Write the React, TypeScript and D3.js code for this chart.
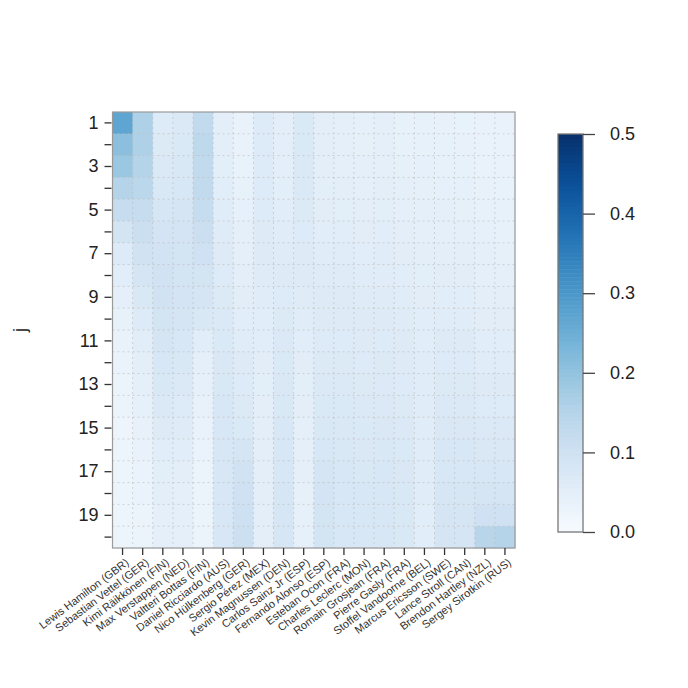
import React, { useRef, useEffect } from 'react';
import * as d3 from 'd3';

// drivers on the x axis, finishing positions j on the y axis
const drivers = [
  'Lewis Hamilton (GBR)', 'Sebastian Vettel (GER)', 'Kimi Räikkönen (FIN)', 'Max Verstappen (NED)',
  'Valtteri Bottas (FIN)', 'Daniel Ricciardo (AUS)', 'Nico Hülkenberg (GER)', 'Sergio Pérez (MEX)',
  'Kevin Magnussen (DEN)', 'Carlos Sainz Jr (ESP)', 'Fernando Alonso (ESP)', 'Esteban Ocon (FRA)',
  'Charles Leclerc (MON)', 'Romain Grosjean (FRA)', 'Pierre Gasly (FRA)', 'Stoffel Vandoorne (BEL)',
  'Marcus Ericsson (SWE)', 'Lance Stroll (CAN)', 'Brendon Hartley (NZL)', 'Sergey Sirotkin (RUS)'
];
const positions = [1, 2, 3, 4, 5, 6, 7, 8, 9, 10, 11, 12, 13, 14, 15, 16, 17, 18, 19, 20];
const yTickLabels = [1, 3, 5, 7, 9, 11, 13, 15, 17, 19];
const colorTicks = [0, 0.1, 0.2, 0.3, 0.4, 0.5];

// probability of each driver (row) finishing in position j = 1..20
const probs = [
  [0.27, 0.21, 0.19, 0.15, 0.12, 0.09, 0.065, 0.055, 0.045, 0.04, 0.035, 0.032, 0.03, 0.028, 0.026, 0.025, 0.024, 0.024, 0.024, 0.024],
  [0.16, 0.16, 0.15, 0.14, 0.12, 0.11, 0.095, 0.085, 0.075, 0.065, 0.055, 0.05, 0.045, 0.042, 0.038, 0.035, 0.033, 0.032, 0.03, 0.03],
  [0.065, 0.068, 0.07, 0.075, 0.082, 0.088, 0.092, 0.095, 0.095, 0.09, 0.085, 0.08, 0.075, 0.07, 0.062, 0.056, 0.052, 0.05, 0.046, 0.045],
  [0.07, 0.072, 0.075, 0.078, 0.084, 0.088, 0.09, 0.09, 0.088, 0.085, 0.08, 0.075, 0.07, 0.065, 0.06, 0.055, 0.05, 0.047, 0.045, 0.045],
  [0.13, 0.135, 0.13, 0.13, 0.12, 0.11, 0.1, 0.09, 0.085, 0.075, 0.055, 0.048, 0.042, 0.038, 0.035, 0.032, 0.03, 0.03, 0.03, 0.03],
  [0.05, 0.05, 0.052, 0.055, 0.058, 0.06, 0.062, 0.065, 0.068, 0.07, 0.072, 0.074, 0.075, 0.077, 0.078, 0.079, 0.08, 0.08, 0.08, 0.08],
  [0.035, 0.035, 0.037, 0.04, 0.042, 0.045, 0.048, 0.05, 0.053, 0.056, 0.059, 0.062, 0.065, 0.068, 0.072, 0.085, 0.095, 0.1, 0.102, 0.105],
  [0.066, 0.066, 0.066, 0.065, 0.065, 0.064, 0.062, 0.06, 0.058, 0.056, 0.055, 0.054, 0.052, 0.051, 0.05, 0.05, 0.05, 0.05, 0.05, 0.05],
  [0.05, 0.05, 0.05, 0.052, 0.055, 0.058, 0.06, 0.062, 0.065, 0.068, 0.07, 0.072, 0.074, 0.076, 0.078, 0.08, 0.08, 0.082, 0.082, 0.082],
  [0.072, 0.072, 0.071, 0.07, 0.068, 0.066, 0.064, 0.062, 0.06, 0.058, 0.056, 0.054, 0.052, 0.05, 0.048, 0.046, 0.045, 0.044, 0.043, 0.042],
  [0.05, 0.05, 0.05, 0.052, 0.054, 0.056, 0.058, 0.06, 0.062, 0.064, 0.066, 0.068, 0.07, 0.072, 0.076, 0.08, 0.085, 0.088, 0.09, 0.09],
  [0.045, 0.046, 0.047, 0.05, 0.052, 0.055, 0.058, 0.06, 0.062, 0.064, 0.066, 0.068, 0.07, 0.072, 0.074, 0.076, 0.078, 0.08, 0.08, 0.08],
  [0.042, 0.043, 0.045, 0.048, 0.05, 0.053, 0.056, 0.058, 0.06, 0.062, 0.064, 0.066, 0.068, 0.07, 0.072, 0.074, 0.076, 0.078, 0.08, 0.08],
  [0.045, 0.046, 0.048, 0.05, 0.052, 0.055, 0.057, 0.059, 0.061, 0.063, 0.065, 0.067, 0.069, 0.071, 0.073, 0.075, 0.077, 0.078, 0.078, 0.078],
  [0.04, 0.041, 0.043, 0.045, 0.048, 0.05, 0.053, 0.055, 0.058, 0.06, 0.062, 0.064, 0.066, 0.068, 0.07, 0.072, 0.074, 0.075, 0.075, 0.075],
  [0.04, 0.04, 0.042, 0.044, 0.046, 0.048, 0.05, 0.052, 0.054, 0.055, 0.056, 0.057, 0.058, 0.058, 0.058, 0.058, 0.058, 0.057, 0.056, 0.055],
  [0.038, 0.039, 0.04, 0.042, 0.045, 0.048, 0.05, 0.053, 0.056, 0.059, 0.062, 0.065, 0.068, 0.071, 0.074, 0.077, 0.08, 0.083, 0.085, 0.085],
  [0.037, 0.038, 0.04, 0.042, 0.044, 0.047, 0.05, 0.053, 0.056, 0.059, 0.062, 0.065, 0.068, 0.071, 0.074, 0.077, 0.08, 0.083, 0.086, 0.086],
  [0.035, 0.035, 0.036, 0.038, 0.04, 0.042, 0.045, 0.048, 0.05, 0.053, 0.056, 0.059, 0.062, 0.066, 0.07, 0.074, 0.078, 0.085, 0.1, 0.145],
  [0.034, 0.034, 0.035, 0.037, 0.039, 0.041, 0.044, 0.047, 0.05, 0.053, 0.056, 0.059, 0.062, 0.066, 0.07, 0.074, 0.078, 0.085, 0.1, 0.15]
];

const FONT = '"Liberation Sans", Arial, Helvetica, sans-serif';

export default function App() {
  const ref = useRef<SVGSVGElement>(null);

  useEffect(() => {
    const svg = d3.select(ref.current);
    svg.selectAll('*').remove();

    const width = 688, height = 688;
    const panel = { left: 112.5, right: 515, top: 112, bottom: 548 };

    const x = d3.scaleBand<string>().domain(drivers).range([panel.left, panel.right]).padding(0);
    const y = d3.scaleBand<number>().domain(positions).range([panel.top, panel.bottom]).padding(0);
    const color = d3.scaleSequential(d3.interpolateBlues).domain([0, 0.5]);

    svg.attr('viewBox', `0 0 ${width} ${height}`);
    svg.append('rect').attr('width', width).attr('height', height).attr('fill', '#fff');

    // heatmap cells
    const cells = drivers.flatMap((d, i) => positions.map((p, k) => ({ d, p, v: probs[i][k] })));
    svg.append('g')
      .selectAll('rect')
      .data(cells)
      .join('rect')
      .attr('x', c => x(c.d)!)
      .attr('y', c => y(c.p)!)
      .attr('width', x.bandwidth() + 0.5)
      .attr('height', y.bandwidth() + 0.5)
      .attr('fill', c => color(c.v));

    // dotted grid on cell boundaries
    const grid = svg.append('g')
      .attr('stroke', '#bdbdbd')
      .attr('stroke-opacity', 0.8)
      .attr('stroke-width', 0.8)
      .attr('stroke-dasharray', '2,3');
    drivers.slice(1).forEach(d => {
      grid.append('line').attr('x1', x(d)!).attr('x2', x(d)!).attr('y1', panel.top).attr('y2', panel.bottom);
    });
    positions.slice(1).forEach(p => {
      grid.append('line').attr('x1', panel.left).attr('x2', panel.right).attr('y1', y(p)!).attr('y2', y(p)!);
    });

    // panel frame
    svg.append('rect')
      .attr('x', panel.left).attr('y', panel.top)
      .attr('width', panel.right - panel.left).attr('height', panel.bottom - panel.top)
      .attr('fill', 'none').attr('stroke', '#9a9a9a').attr('stroke-width', 1.2);

    // y axis
    const yAxis = svg.append('g')
      .attr('transform', `translate(${panel.left - 1},0)`)
      .call(d3.axisLeft(y)
        .tickSize(7).tickPadding(6)
        .tickFormat(p => (yTickLabels.includes(p as number) ? String(p) : '')));
    yAxis.select('.domain').remove();
    yAxis.selectAll('line').attr('stroke', '#333').attr('stroke-width', 1.3);
    yAxis.selectAll('text').attr('font-family', FONT).attr('font-size', 18).attr('fill', '#222');

    svg.append('text')
      .attr('transform', `translate(21,${(panel.top + panel.bottom) / 2}) rotate(-90)`)
      .attr('text-anchor', 'middle')
      .attr('dominant-baseline', 'middle')
      .attr('font-family', FONT).attr('font-size', 18).attr('fill', '#222')
      .text('j');

    // x axis
    const xAxis = svg.append('g')
      .attr('transform', `translate(0,${panel.bottom})`)
      .call(d3.axisBottom(x).tickSize(7).tickFormat(() => ''));
    xAxis.select('.domain').remove();
    xAxis.selectAll('line').attr('stroke', '#333').attr('stroke-width', 1.3);

    svg.append('g')
      .selectAll('text')
      .data(drivers)
      .join('text')
      .attr('transform', d => `translate(${x(d)! + x.bandwidth() / 2 + 7},${panel.bottom + 16}) rotate(-37)`)
      .attr('text-anchor', 'end')
      .attr('font-family', FONT).attr('font-size', 11).attr('fill', '#333')
      .text(d => d);

    // colour bar
    const bar = { left: 558, right: 583, top: 134, bottom: 532 };
    const cy = d3.scaleLinear().domain([0, 0.5]).range([bar.bottom, bar.top]);
    const steps = d3.range(0, 0.5, 0.005);
    svg.append('g')
      .selectAll('rect')
      .data(steps)
      .join('rect')
      .attr('x', bar.left)
      .attr('width', bar.right - bar.left)
      .attr('y', s => cy(s + 0.005))
      .attr('height', cy(0) - cy(0.005) + 0.5)
      .attr('fill', s => color(s + 0.0025));
    svg.append('rect')
      .attr('x', bar.left).attr('y', bar.top)
      .attr('width', bar.right - bar.left).attr('height', bar.bottom - bar.top)
      .attr('fill', 'none').attr('stroke', '#777').attr('stroke-width', 1.3);

    const cAxis = svg.append('g')
      .attr('transform', `translate(${bar.right},0)`)
      .call(d3.axisRight(cy).tickValues(colorTicks).tickSize(12).tickPadding(15).tickFormat(d3.format('.1f')));
    cAxis.select('.domain').remove();
    cAxis.selectAll('line').attr('stroke', '#444').attr('stroke-width', 1.3);
    cAxis.selectAll('text').attr('font-family', FONT).attr('font-size', 18).attr('fill', '#222');
  }, []);

  return (
    <svg
      ref={ref}
      width={688}
      height={688}
      style={{ position: 'absolute', left: 0, top: 0, display: 'block' }}
    />
  );
}
